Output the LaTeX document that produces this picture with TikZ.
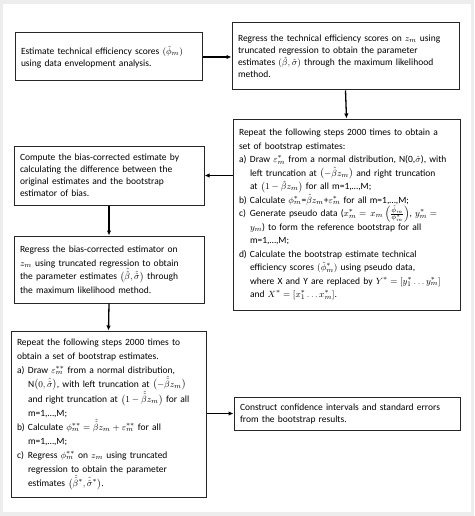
\documentclass[tikz,border=0pt]{standalone}
\usepackage{amsmath}
\usepackage{fontspec}
\setmainfont{Carlito}
\usetikzlibrary{arrows.meta}
\hyphenpenalty=10000
\exhyphenpenalty=10000
\newcommand\bitem[1]{\par\hangindent=11pt\hangafter=1\noindent\makebox[11pt][l]{#1}}
\tikzset{
  box/.style={draw=black!85, line width=1pt, fill=white, align=left,
    inner xsep=6pt, inner ysep=3pt,
    font=\fontsize{9.5}{12}\selectfont},
  tall/.style={font=\fontsize{9.5}{13.5}\selectfont},
  taller/.style={font=\fontsize{9.5}{14}\selectfont},
  arr/.style={line width=1.3pt, -{Latex[length=5pt,width=4.5pt]}}
}
\begin{document}
\begin{tikzpicture}[x=1pt,y=-1pt]
\fill[black!7] (0,0) rectangle (474,516);
\fill[white] (3,4) rectangle (471,512);
\useasboundingbox (0,0) rectangle (474,516);

\node[box, text width=175pt, minimum height=48pt] (b1) at (108.5,57)
 {Estimate technical efficiency scores $(\hat{\phi}_{m})$\newline using data envelopment analysis.};

\node[box, text width=215pt, minimum height=67pt] (b2) at (345.5,56.5)
 {Regress the technical efficiency scores on $z_{m}$ using\newline truncated regression to obtain the parameter\newline estimates $(\hat{\beta},\hat{\sigma})$ through the maximum likelihood\newline method.};

\node[box, tall, text width=215pt, minimum height=191pt] (b3) at (346.5,214.5)
 {Repeat the following steps 2000 times to obtain a\newline set of bootstrap estimates:
 \bitem{a)}Draw $\varepsilon^{*}_{m}$ from a normal distribution, N(0,$\hat{\sigma}$), with\newline left truncation at $\bigl(-\hat{\beta}z_{m}\bigr)$ and right truncation\newline at $\bigl(1-\hat{\beta}z_{m}\bigr)$ for all m=1,\dots,M;
 \bitem{b)}Calculate $\phi^{*}_{m}$=$\hat{\beta}z_{m}$+$\varepsilon^{*}_{m}$ for all m=1,\dots,M;
 \bitem{c)}Generate pseudo data ($x^{*}_{m}=\,x_{m}\left(\frac{\hat{\phi}_{m}}{\phi^{*}_{m}}\right)$, $y^{*}_{m}=$\newline $y_{m}$) to form the reference bootstrap for all\newline m=1,\dots,M;
 \bitem{d)}Calculate the bootstrap estimate technical\newline efficiency scores $(\hat{\phi}^{*}_{m})$ using pseudo data,\newline where X and Y are replaced by $Y^{*}=[y^{*}_{1}\dots y^{*}_{m}]$\newline and $X^{*}=[x^{*}_{1}\dots x^{*}_{m}]$.\par};

\node[box, text width=178pt, minimum height=59pt] (b4) at (109,175.5)
 {Compute the bias-corrected estimate by\newline calculating the difference between the\newline original estimates and the bootstrap\newline estimator of bias.};

\node[box, tall, text width=178pt, minimum height=67pt] (b5) at (109,269.5)
 {Regress the bias-corrected estimator on\newline $z_{m}$ using truncated regression to obtain\newline the parameter estimates $\bigl(\hat{\hat{\beta}},\hat{\hat{\sigma}}\bigr)$ through\newline the maximum likelihood method.};

\node[box, taller, text width=183pt, minimum height=166pt] (b6) at (108.5,414)
 {Repeat the following steps 2000 times to\newline obtain a set of bootstrap estimates.
 \bitem{a)}Draw $\varepsilon^{**}_{m}$ from a normal distribution,\newline N$\bigl(0,\hat{\hat{\sigma}}\bigr)$, with left truncation at $\bigl(-\hat{\hat{\beta}}z_{m}\bigr)$\newline and right truncation at $\bigl(1-\hat{\hat{\beta}}z_{m}\bigr)$ for all\newline m=1,\dots,M;
 \bitem{b)}Calculate $\phi^{**}_{m}=\hat{\hat{\beta}}z_{m}+\varepsilon^{**}_{m}$ for all\newline m=1,\dots,M;
 \bitem{c)}Regress $\phi^{**}_{m}$ on $z_{m}$ using truncated\newline regression to obtain the parameter\newline estimates $\bigl(\hat{\hat{\beta}}{}^{*},\hat{\hat{\sigma}}{}^{*}\bigr)$.\par};

\node[box, text width=214pt, minimum height=33pt] (b7) at (347,413.5)
 {Construct confidence intervals and standard errors\newline from the bootstrap results.};

\draw[arr] (b1.east) -- (b2.west |- b1.east);
\draw[arr] (b2.south) -- (b3.north);
\draw[arr] (b3.west |- b4.east) -- (b4.east);
\draw[arr] (b4.south) -- (b5.north);
\draw[arr] (b5.south) -- (b6.north);
\draw[arr] (b6.east |- b7.west) -- (b7.west);
\end{tikzpicture}
\end{document}
